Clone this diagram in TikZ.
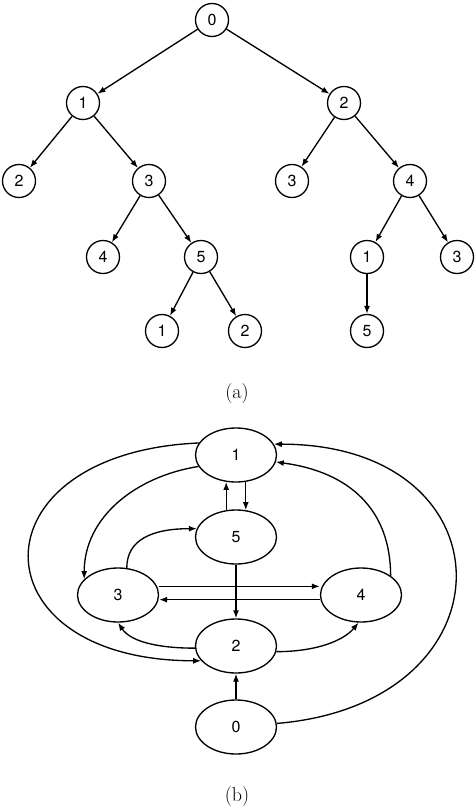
\documentclass[tikz,border=0pt]{standalone}
\usepackage{fontspec}
\newfontfamily\digitfont{TeX Gyre Heros}
\usetikzlibrary{shapes.geometric,arrows.meta}
\begin{document}
\begin{tikzpicture}[x=0.75pt,y=-0.75pt,
  tnode/.style={circle,draw,line width=1pt,minimum size=24.75pt,inner sep=0pt,font=\digitfont\fontsize{12}{14}\selectfont},
  bnode/.style={ellipse,draw,line width=1pt,minimum width=60.75pt,minimum height=40.5pt,inner sep=0pt,font=\digitfont\fontsize{12}{14}\selectfont},
  edge/.style={line width=1pt,-{Latex[length=6pt,width=4.5pt]}},
  caption/.style={font=\fontsize{15}{17}\selectfont}]
\useasboundingbox (0,0) rectangle (474,809);
% (a) search tree
\node[tnode] (a0) at (212,20) {0};
\node[tnode] (a1) at (83,103) {1};
\node[tnode] (a2) at (344,103) {2};
\node[tnode] (a12) at (19,181) {2};
\node[tnode] (a13) at (149,181) {3};
\node[tnode] (a23) at (292,181) {3};
\node[tnode] (a24) at (410,181) {4};
\node[tnode] (a134) at (103,257) {4};
\node[tnode] (a135) at (201,257) {5};
\node[tnode] (a241) at (367,257) {1};
\node[tnode] (a243) at (457,257) {3};
\node[tnode] (a1351) at (162,331) {1};
\node[tnode] (a1352) at (245,331) {2};
\node[tnode] (a2415) at (367,331) {5};
\draw[edge] (a0) -- (a1);
\draw[edge] (a0) -- (a2);
\draw[edge] (a1) -- (a12);
\draw[edge] (a1) -- (a13);
\draw[edge] (a2) -- (a23);
\draw[edge] (a2) -- (a24);
\draw[edge] (a13) -- (a134);
\draw[edge] (a13) -- (a135);
\draw[edge] (a24) -- (a241);
\draw[edge] (a24) -- (a243);
\draw[edge] (a135) -- (a1351);
\draw[edge] (a135) -- (a1352);
\draw[edge] (a241) -- (a2415);
\node[caption] (capa) at (237,394) {(a)};
% (b) graph
\node[bnode] (b1) at (236,455) {1};
\node[bnode] (b5) at (236,537) {5};
\node[bnode] (b3) at (118,595) {3};
\node[bnode] (b4) at (361,595) {4};
\node[bnode] (b2) at (236,646) {2};
\node[bnode] (b0) at (236,727) {0};
\draw[edge] (b5.110) -- (b1.250);
\draw[edge] (b1.290) -- (b5.70);
\draw[edge] (b5) -- (b2);
\draw[edge] (b0) -- (b2);
\draw[edge] ([yshift=6.5pt]b3.east) -- ([yshift=6.5pt]b4.west);
\draw[edge] ([yshift=-3.5pt]b4.west) -- ([yshift=-3.5pt]b3.east);
\draw[edge] (b3.72) .. controls +(0,-28) and +(-45,0) .. (b5.168);
\draw[edge] (b1.197) .. controls +(-63,10) and +(0,-62) .. (b3.155);
\draw[edge] (b1.162) .. controls +(-228,10) and +(-228,0) .. (b2.203);
\draw[edge] (b2.183) .. controls +(-40,0) and +(12,18) .. (b3.south);
\draw[edge] (b2.-8) .. controls +(40,0) and +(-15,18) .. (b4.-95);
\draw[edge] (b4.33) .. controls +(0,-65) and +(75,10) .. (b1.-10);
\draw[edge] (b0.5) .. controls +(240,-20) and +(240,0) .. (b1.16);
\node[caption] (capb) at (237,796) {(b)};
\end{tikzpicture}
\end{document}
